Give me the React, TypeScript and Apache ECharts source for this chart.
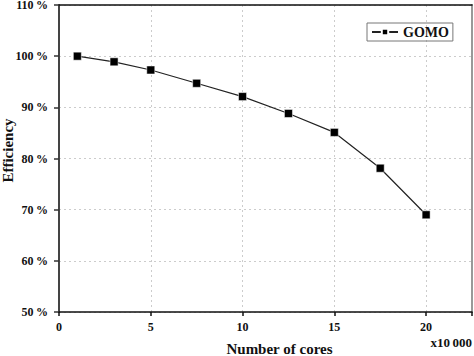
import React, { useEffect, useRef } from "react";
import * as echarts from "echarts";

const cores = [1, 3, 5, 7.5, 10, 12.5, 15, 17.5, 20];
const efficiency = [100, 98.9, 97.3, 94.7, 92.1, 88.8, 85.1, 78.1, 69.0];
const xTickLabels = ["0", "5", "10", "15", "20"];
const seriesName = "GOMO";
const xName = "Number of cores";
const yName = "Efficiency";
const xScaleNote = "x10\u2009000";

const FONT = "'Liberation Serif', 'Times New Roman', serif";

export default function App() {
  const ref = useRef<HTMLDivElement>(null);
  useEffect(() => {
    if (!ref.current) return;
    const chart = echarts.init(ref.current, undefined, { renderer: "svg" });
    const textBase = { fontFamily: FONT, fontWeight: "bold" as const, color: "#111" };
    chart.setOption({
      animation: false,
      backgroundColor: "#fff",
      grid: { left: 59, top: 5, right: 2, bottom: 44, outerBoundsMode: "none", containLabel: false },
      legend: {
        left: 367,
        top: 23,
        data: [seriesName],
        borderColor: "#777",
        borderWidth: 1,
        padding: [2, 4, 2, 4],
        itemWidth: 26,
        itemHeight: 8,
        itemGap: 4,
        textStyle: { ...textBase, fontSize: 14 },
      },
      xAxis: [
        {
          type: "value",
          min: 0,
          max: 22.5,
          interval: 5,
          name: xName,
          nameLocation: "middle",
          nameGap: 29,
          nameMoveOverlap: false,
          nameTextStyle: { ...textBase, fontSize: 15, padding: [0, 0, 0, 28] },
          axisLine: { show: true, onZero: false, lineStyle: { color: "#111", width: 1.5 } },
          axisTick: { show: true, length: 4, lineStyle: { color: "#111", width: 1.5 } },
          axisLabel: {
            ...textBase,
            fontSize: 12,
            margin: 9,
            formatter: (v: number) => {
              const i = Math.round(v / 5);
              return Math.abs(v - i * 5) < 1e-6 && xTickLabels[i] !== undefined ? xTickLabels[i] : "";
            },
          },
          splitLine: { show: true, lineStyle: { color: "#ccc", type: [2, 3], width: 1 } },
        },
        {
          type: "value",
          position: "top",
          min: 0,
          max: 22.5,
          axisLine: { show: true, onZero: false, lineStyle: { color: "#111", width: 1.5 } },
          axisTick: { show: false },
          axisLabel: { show: false },
          splitLine: { show: false },
        },
      ],
      yAxis: [
        {
          type: "value",
          min: 50,
          max: 110,
          interval: 10,
          name: yName,
          nameLocation: "middle",
          nameGap: 44,
          nameMoveOverlap: false,
          nameTextStyle: { ...textBase, fontSize: 15, padding: [0, 0, 0, 16] },
          axisLine: { show: true, onZero: false, lineStyle: { color: "#444", width: 2 } },
          axisTick: { show: true, length: 5, lineStyle: { color: "#333", width: 1.5 } },
          axisLabel: {
            ...textBase,
            fontSize: 12,
            margin: 11,
            formatter: (v: number) => v + "\u2009%",
          },
          splitLine: { show: true, lineStyle: { color: "#ccc", type: [2, 3], width: 1 } },
        },
        {
          type: "value",
          position: "right",
          min: 50,
          max: 110,
          axisLine: { show: true, onZero: false, lineStyle: { color: "#999", width: 2 } },
          axisTick: { show: false },
          axisLabel: { show: false },
          splitLine: { show: false },
        },
      ],
      graphic: [
        {
          type: "text",
          right: 2,
          top: 336,
          style: { text: xScaleNote, font: `bold 13px ${FONT}`, fill: "#111" },
        },
      ],
      series: [
        {
          name: seriesName,
          type: "line",
          data: cores.map((c, i) => [c, efficiency[i]]),
          symbol: "rect",
          symbolSize: 8,
          lineStyle: { color: "#222", width: 1.2 },
          itemStyle: { color: "#000", borderColor: "#fff", borderWidth: 0.5 },
        },
      ],
    });
    return () => chart.dispose();
  }, []);
  return <div ref={ref} style={{ width: 474, height: 356, position: "absolute", left: 0, top: 0 }} />;
}
